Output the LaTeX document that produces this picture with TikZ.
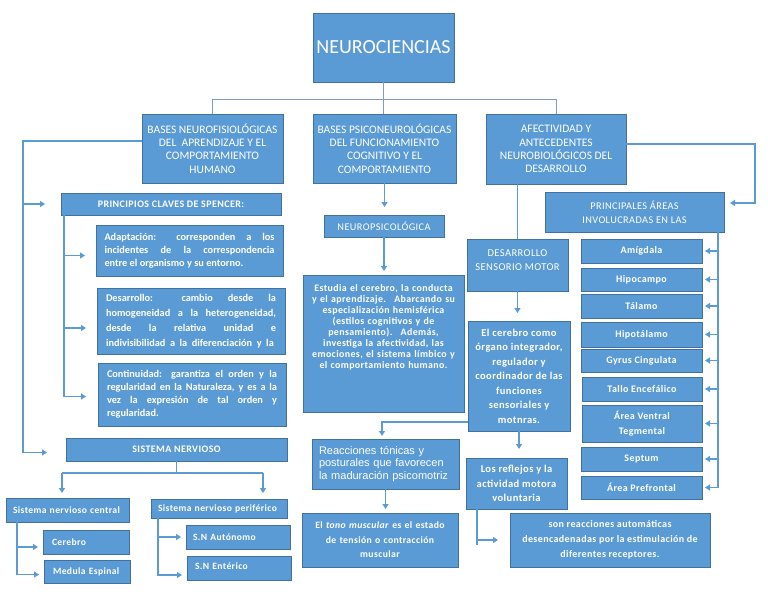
\documentclass[tikz,border=0pt]{standalone}
\usepackage{fontspec}
\setmainfont{Carlito}
\newfontfamily\arialf{Liberation Sans}
\newfontfamily\wcal[LetterSpace=4]{Carlito}
\usetikzlibrary{arrows.meta}
\definecolor{boxb}{HTML}{5B9BD5}
\definecolor{bord}{HTML}{41719C}
\definecolor{lineb}{HTML}{5B9BD5}
\definecolor{topl}{HTML}{7F9BBF}
\newcommand\placebox[7]{%
  \node[bx,minimum width={(#4-#2)*1pt},minimum height={(#5-#3)*1pt},#6] (#1) at ({(#2+#4)/2},{(#3+#5)/2}) {#7};}
\tikzset{
  bx/.style={draw=bord, fill=boxb, text=white, inner sep=0pt, outer sep=0pt, line width=0.6pt},
  cn/.style={draw=lineb, line width=1.6pt},
  cna/.style={cn, -{Triangle[length=5pt,width=6pt]}},
  tp/.style={draw=topl, line width=0.9pt},
  hd/.style={align=center, font=\fontsize{11.5}{13.2}\selectfont},
  sm/.style={font=\fontsize{10}{13}\selectfont\wcal\bfseries},
  sn/.style={font=\fontsize{9.6}{13}\selectfont\wcal\bfseries},
  jb/.style={font=\fontsize{10.3}{13}\selectfont\bfseries,text width=170pt,align=justify},
  wr/.style={font=\fontsize{10.3}{14}\selectfont\wcal},
  bb/.style={font=\fontsize{10.5}{14.5}\selectfont\wcal\bfseries,align=center},
}
\begin{document}
\begin{tikzpicture}[x=1pt,y=-1pt]
\useasboundingbox (0,0) rectangle (768,594);
% top level
\placebox{neuro}{313}{13}{454}{82}{font=\fontsize{20}{22}\selectfont}{NEUROCIENCIAS}
\placebox{b1}{142}{114}{283}{183}{hd}{BASES NEUROFISIOLÓGICAS\\DEL \ APRENDIZAJE Y EL\\COMPORTAMIENTO\\HUMANO}
\placebox{b2}{313}{114}{456}{183}{hd}{BASES PSICONEUROLÓGICAS\\DEL FUNCIONAMIENTO\\COGNITIVO Y EL\\COMPORTAMIENTO}
\placebox{b3}{486}{114}{626}{184}{hd}{AFECTIVIDAD Y\\ANTECEDENTES\\NEUROBIOLÓGICOS DEL\\DESARROLLO}
% left column
\placebox{pc}{61}{193}{281}{215}{sm,align=center}{PRINCIPIOS CLAVES DE SPENCER:}
\placebox{ad}{96}{225}{283}{276}{jb}{Adaptación: corresponden a los\linebreak incidentes de la correspondencia\linebreak entre el organismo y su entorno.}
\placebox{de}{97}{288}{285}{354}{jb,font=\fontsize{10.3}{15}\selectfont\bfseries}{\spaceskip=0.226em plus 1fil\parfillskip=0pt Desarrollo: cambio desde la\linebreak homogeneidad a la heterogeneidad,\linebreak desde la relativa unidad e\linebreak indivisibilidad a la diferenciación y la}
\placebox{co}{98}{363}{286}{426}{jb}{Continuidad: garantiza el orden y la\linebreak regularidad en la Naturaleza, y es a la\linebreak vez la expresión de tal orden y\linebreak regularidad.}
\placebox{sn}{66}{438}{287}{461}{sm,align=center}{SISTEMA NERVIOSO}
\placebox{snc}{6}{498}{129}{522}{sn,text width=109pt,align=left}{Sistema nervioso central}
\placebox{snp}{151}{499}{287}{518}{sn,text width=122pt,align=left}{Sistema nervioso periférico}
\placebox{ce}{43}{530}{129}{554}{sn,text width=68pt,align=left}{Cerebro}
\placebox{me}{44}{560}{130}{583}{sn,text width=68pt,align=left}{Medula Espinal}
\placebox{sa}{186}{525}{290}{549}{sn,text width=90pt,align=left}{S.N Autónomo}
\placebox{se}{187}{556}{291}{580}{sn,text width=88pt,align=left}{S.N Entérico\rule[-3pt]{0pt}{0pt}}
% middle column
\placebox{np}{324}{215}{444}{237}{wr,align=center}{NEUROPSICOLÓGICA}
\placebox{es}{303}{275}{464}{412}{font=\fontsize{9.9}{10.9}\selectfont\wcal\bfseries,text width=160pt,align=center}{Estudia el cerebro, la conducta\\y el aprendizaje. \ Abarcando su\\especialización hemisférica\\(estilos cognitivos y de\\pensamiento). \ Además,\\investiga la afectividad, las\\emociones, el sistema límbico y\\el comportamiento humano.\rule[-34pt]{0pt}{0pt}}
\placebox{rt}{312}{439}{459}{489}{font=\arialf\fontsize{11}{12.5}\selectfont,text width=133pt,align=left}{Reacciones tónicas y\\posturales que favorecen\\la maduración psicomotriz}
\placebox{tm}{302}{513}{458}{567}{font=\fontsize{9.7}{14.5}\selectfont\wcal\bfseries,text width=154pt,align=center}{El \textit{tono muscular} es el estado\\de tensión o contracción\\muscular}
% right-middle column
\placebox{ds}{467}{239}{568}{291}{font=\fontsize{10.5}{14}\selectfont\wcal,align=center}{DESARROLLO\\SENSORIO MOTOR\rule[-10pt]{0pt}{0pt}}
\placebox{ec}{468}{321}{570}{431}{bb}{El cerebro como\\órgano integrador,\\regulador y\\coordinador de las\\funciones\\sensoriales y\\motnras.}
\placebox{lr}{466}{458}{567}{509}{bb}{Los reflejos y la\\actividad motora\\voluntaria}
\placebox{sr}{510}{513}{710}{567}{font=\fontsize{10}{15}\selectfont\wcal\bfseries,align=center}{son reacciones automáticas\\desencadenadas por la estimulación de\\diferentes receptores.}
% right column
\placebox{pa}{545}{192}{724}{232}{wr,align=center}{PRINCIPALES ÁREAS\\INVOLUCRADAS EN LAS}
\placebox{a1}{581}{239}{702}{263}{sm,align=center}{Amígdala}
\placebox{a2}{581}{268}{702}{291}{sm,align=center}{Hipocampo}
\placebox{a3}{581}{294}{702}{318}{sm,align=center}{Tálamo}
\placebox{a4}{581}{322}{702}{347}{sm,align=center}{Hipotálamo}
\placebox{a5}{581}{349}{702}{372}{sm,align=center}{Gyrus Cingulata}
\placebox{a6}{582}{377}{702}{401}{sm,align=center}{Tallo Encefálico}
\placebox{a7}{582}{405}{702}{442}{sm,font=\fontsize{10}{15}\selectfont\wcal\bfseries,align=center}{Área Ventral\\Tegmental}
\placebox{a8}{581}{447}{702}{471}{sm,align=center}{Septum}
\placebox{a9}{581}{476}{702}{499}{sm,align=center}{Área Prefrontal}
% connectors: top
\coordinate (hy) at (0,99);
\draw[tp] (neuro.south) -- (neuro.south|-b2.north);
\draw[tp] (b1.north) -- (b1.north|-hy) -- (b3.north|-hy) -- (b3.north);
% left
\coordinate (tL) at (23,141);
\draw[cna,shorten >=19pt] (b1.west|-tL) -- (tL) |- ([yshift=-3pt]sn.west);
\draw[cna,shorten >=16pt] (tL|-pc.west) -- (pc.west);
\coordinate (tP) at (64,215);
\draw[cna,shorten >=12pt] (tP) |- ([yshift=-2pt]co.west);
\draw[cna,shorten >=11pt] (tP|-ad.west) ++(0,5) -- ([yshift=-5pt]ad.west);
\draw[cna,shorten >=11pt] (tP|-de.west) ++(0,7) -- ([yshift=-7pt]de.west);
\coordinate (sy) at (0,473);
\coordinate (sL) at (62,473);
\coordinate (sR) at (263,473);
\draw[cn] (sn.south) -- (sn.south|-sy);
\draw[cn] (sL) -- (sR);
\draw[cna,shorten >=5pt] (sL) -- (sL|-snc.north);
\draw[cna,shorten >=6pt] (sR) -- (sR|-snp.north);
\coordinate (cT) at (17,522);
\draw[cna,shorten >=5pt] (cT) |- ([yshift=-3pt]me.west);
\draw[cna,shorten >=5pt] (cT|-ce.west) ++(0,5) -- ([yshift=-5pt]ce.west);
\coordinate (pT) at (158,518);
\draw[cna,shorten >=5pt] (pT) |- ([yshift=-7pt]se.west);
\draw[cna,shorten >=5pt] (pT|-sa.west) -- (sa.west);
% middle
\draw[cna,shorten >=8pt] (b2.south) -- (b2.south|-np.north);
\draw[cna,shorten >=4pt] (np.south) -- (np.south|-es.north);
\coordinate (rT) at (382,422);
\draw[cna,shorten >=3pt] (ec.west|-rT) -- (rT) -- (rT|-rt.north);
\draw[cna,shorten >=4pt] (rt.south) -- (rt.south|-tm.north);
% right
\draw[cn] (ds.north|-b3.south) -- (ds.north);
\draw[cna,shorten >=8pt] (ds.south) -- (ds.south|-ec.north);
\draw[cna,shorten >=9pt] (ec.south) -- (ec.south|-lr.north);
\coordinate (lT) at (477,509);
\draw[cn] (lT) -- ++(0,36);
\draw[cna,shorten >=12pt] (lT) |- (sr.west);
\coordinate (rR) at (755,144);
\draw[cna,shorten >=6pt] (b3.east|-rR) -- (rR) |- ([yshift=9pt]pa.east);
\coordinate (aT) at (718,232);
\draw[cn] (aT) -- (aT|-a9.east);
\foreach \i in {1,...,9}{\draw[cna,shorten >=3pt] (aT|-a\i.east) -- (a\i.east);}
\end{tikzpicture}
\end{document}
